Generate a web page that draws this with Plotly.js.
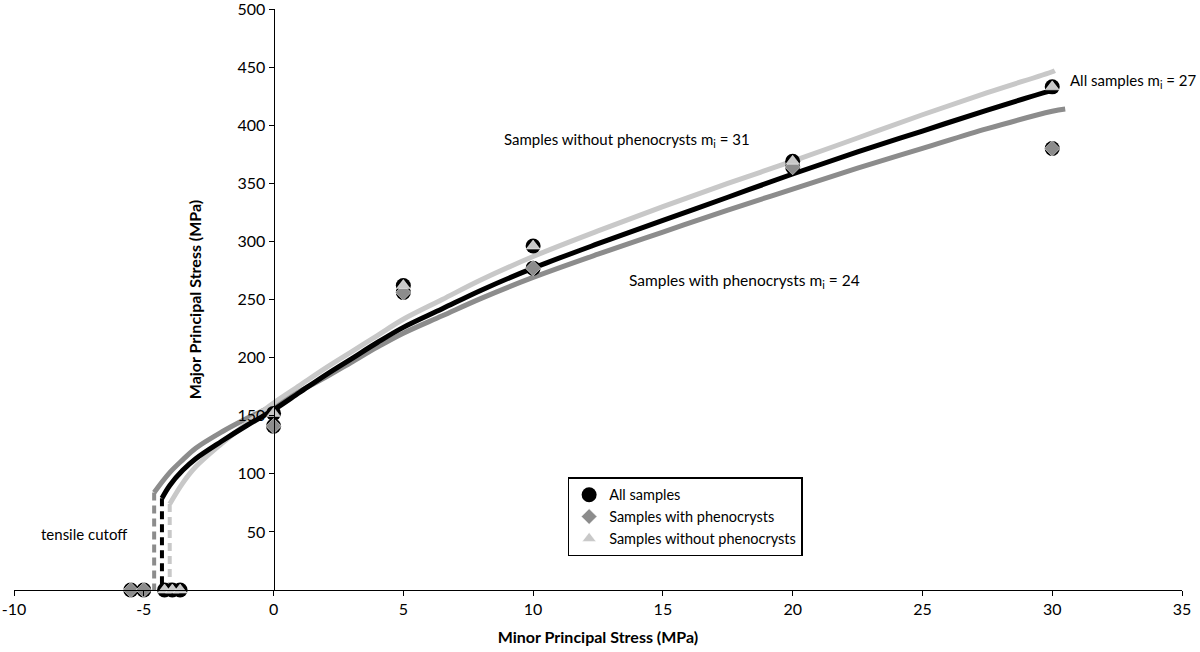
<!DOCTYPE html>
<html>
<head>
<meta charset="utf-8">
<script src="https://cdn.plot.ly/plotly-3.0.1.min.js"></script>
<style>html,body{margin:0;padding:0;background:#fff;}#chart{width:1200px;height:652px;}</style>
</head>
<body>
<div id="chart"></div>
<script>
// Measured points
const withX = [-5.5, -5.0, 0, 5, 10, 20, 30];
const withY = [0, 0, 141, 256, 277, 364, 380];
const withoutX = [-4.2, -3.9, -3.6, 0, 5, 10, 20, 30];
const withoutY = [0, 0, 0, 152, 262, 296, 369, 433];
const allX = withX.concat(withoutX);
const allY = withY.concat(withoutY);

// Fitted curves
const curveAllX = [-4.3, -4, -3.5, -3, -2, -1, 0, 1, 2, 3, 4, 5, 6.5, 8, 10, 12.5, 15, 17.5, 20, 22.5, 25, 27.5, 30, 30.2];
const curveAllY = [79, 90, 103, 113, 128, 142, 155, 170, 185, 199, 213, 226, 242, 258, 277, 298, 318, 338, 358, 377, 395, 413, 430, 431];
const curveWithoutX = [-4.0, -3.5, -3, -2, -1, 0, 1, 2, 3, 4, 5, 6.5, 8, 10, 12.5, 15, 17.5, 20, 22.5, 25, 27.5, 30, 30.1];
const curveWithoutY = [74, 92, 106, 126, 144, 161, 176, 191, 205, 219, 233, 250, 267, 287, 309, 330, 350, 369, 389, 409, 428, 446, 447];
const curveWithX = [-4.6, -4, -3.5, -3, -2, -1, 0, 1, 2, 3, 4, 5, 6.5, 8, 10, 12.5, 15, 17.5, 20, 22.5, 25, 27.5, 30, 30.5];
const curveWithY = [84, 101, 112, 122, 136, 148, 159, 171, 183, 196, 209, 221, 236, 251, 269, 289, 308, 327, 345, 363, 380, 397, 412, 414];

const xTicks = [-10, -5, 0, 5, 10, 15, 20, 25, 30, 35];
const yTicks = [50, 100, 150, 200, 250, 300, 350, 400, 450, 500];

const cBlack = '#000000', cDark = '#8c8c8c', cLight = '#c8c8c8';
const FONT = 'Lato, "Open Sans", sans-serif';

function curve(x, y, color) {
  return {x: x, y: y, mode: 'lines', line: {color: color, width: 5, shape: 'spline', smoothing: 1}, showlegend: false, hoverinfo: 'skip'};
}
function cutoff(x, y, color) {
  return {x: [x[0], x[0]], y: [y[0], 0], mode: 'lines', line: {color: color, width: 4, dash: '8px,5px'}, showlegend: false, hoverinfo: 'skip'};
}

const traces = [
  cutoff(curveWithX, curveWithY, cDark),
  cutoff(curveAllX, curveAllY, cBlack),
  cutoff(curveWithoutX, curveWithoutY, cLight),
  curve(curveWithX, curveWithY, cDark),
  curve(curveWithoutX, curveWithoutY, cLight),
  curve(curveAllX, curveAllY, cBlack),
  {x: allX, y: allY, mode: 'markers', name: 'All samples', cliponaxis: false,
   marker: {symbol: 'circle', size: 15, color: cBlack}},
  {x: withX, y: withY, mode: 'markers', name: 'Samples with phenocrysts', cliponaxis: false,
   marker: {symbol: 'diamond', size: 12, color: cDark, line: {color: '#ffffff', width: 0.5}}},
  {x: withoutX, y: withoutY, mode: 'markers', name: 'Samples without phenocrysts', cliponaxis: false,
   marker: {symbol: 'triangle-up', size: 12, color: cLight, line: {color: '#ffffff', width: 0.5}}}
];

const layout = {
  width: 1200, height: 652,
  margin: {l: 14, r: 18, t: 9, b: 62},
  paper_bgcolor: '#fff', plot_bgcolor: '#fff',
  font: {family: FONT, size: 16, color: '#000'},
  showlegend: true,
  legend: {x: 0.474, y: 0.194, xanchor: 'left', yanchor: 'top',
           bordercolor: '#000', borderwidth: 1.5, bgcolor: '#fff',
           font: {family: FONT, size: 14.5}, tracegroupgap: 0, itemwidth: 30},
  xaxis: {range: [-10, 35], tickvals: xTicks, ticktext: xTicks.map(String),
          showgrid: false, zeroline: false, showline: true, linecolor: '#000', linewidth: 1,
          ticks: 'outside', ticklen: 5, tickcolor: '#000', ticklabeloverflow: 'allow',
          title: {text: '<b>Minor Principal Stress (MPa)</b>', font: {family: FONT, size: 16}, standoff: 14}},
  yaxis: {range: [0, 500], tickvals: yTicks, ticktext: yTicks.map(String),
          anchor: 'free', position: 10/45,
          showgrid: false, zeroline: false, showline: true, linecolor: '#000', linewidth: 1,
          ticks: 'outside', ticklen: 5, tickcolor: '#000', ticklabeloverflow: 'allow',
          title: {text: '<b>Major Principal Stress (MPa)</b>', font: {family: FONT, size: 16}, standoff: 30}},
  annotations: [
    {x: 30.6, y: 438, xref: 'x', yref: 'y', text: 'All samples m<sub>i</sub> = 27', showarrow: false, xanchor: 'left', font: {family: FONT, size: 15}},
    {x: 8.8, y: 387, xref: 'x', yref: 'y', text: 'Samples without phenocrysts m<sub>i</sub> = 31', showarrow: false, xanchor: 'left', font: {family: FONT, size: 15}},
    {x: 13.6, y: 266, xref: 'x', yref: 'y', text: 'Samples with phenocrysts m<sub>i</sub> = 24', showarrow: false, xanchor: 'left', font: {family: FONT, size: 15.5}},
    {x: -9.05, y: 48, xref: 'x', yref: 'y', text: 'tensile cutoff', showarrow: false, xanchor: 'left', font: {family: FONT, size: 15}}
  ]
};

Plotly.newPlot('chart', traces, layout, {displayModeBar: false, staticPlot: true});
</script>
</body>
</html>
